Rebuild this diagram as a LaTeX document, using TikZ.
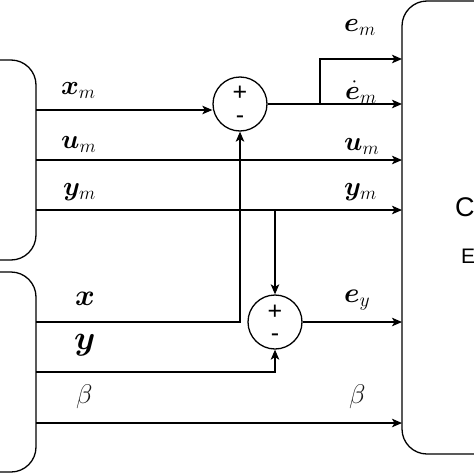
\RequirePackage{fix-cm}
\documentclass[tikz,border=0pt]{standalone}
\usepackage{bm}
\usepackage{fontspec}
\newfontfamily\arialf{Liberation Sans}
\usetikzlibrary{arrows.meta,calc}
\begin{document}
\begin{tikzpicture}[x=1pt,y=-1pt,
  wire/.style={line width=1.3pt},
  arr/.style={wire,-{Stealth[length=10pt,width=8.5pt,inset=2.5pt]}},
  blk/.style={draw,line width=1.3pt,rounded corners=25pt,rectangle},
  sum/.style={draw,circle,line width=1.3pt,minimum size=54pt,inner sep=0pt},
  lbl/.style={font=\fontsize{27}{31}\selectfont,inner sep=0pt,anchor=base west},
  sgn/.style={font=\arialf\fontsize{25}{29}\selectfont,inner sep=0pt},
  big/.style={font=\arialf\fontsize{27}{31}\selectfont,inner sep=0pt,anchor=west}]
\useasboundingbox (0,0) rectangle (474,474);
\clip (0,0) rectangle (474,474);
% blocks
\draw[blk] (-40,60) rectangle (36,260);
\node[inner sep=0pt] (box1) at (-2,160) {};
\draw[blk] (-40,272) rectangle (36,472);
\node[inner sep=0pt] (box2) at (-2,372) {};
\draw[blk] (402,1) rectangle (520,454);
\node[big] (tC) at (455,207) {C};
\node[big,font=\arialf\fontsize{21}{25}\selectfont] (tE) at (461,256) {E};
% summing junctions
\node[sum] (c1) at (240,104) {};
\node[sgn] (p1) at (240,93) {+};
\node[sgn] (m1) at (240,120) {-};
\node[sum] (c2) at (275,322) {};
\node[sgn] (p2) at (275,312) {+};
\node[sgn] (m2) at (275,338) {-};
% coordinates on block edges
\coordinate (sxm) at (36,110);
\coordinate (sum_) at (36,160);
\coordinate (sym) at (36,210);
\coordinate (sx) at (36,322);
\coordinate (sy) at (36,372);
\coordinate (sb) at (36,423);
\coordinate (em) at (402,59);
\coordinate (edm) at (402,104);
\coordinate (eum) at (402,160);
\coordinate (eym) at (402,210);
\coordinate (eey) at (402,322);
\coordinate (eb) at (402,423);
\coordinate (br) at (320,104);
\coordinate (bym) at (275,210);
% connectors
\draw[arr] (sxm) -- (sxm -| c1.west);
\draw[arr] (c1.east) -- (edm);
\draw[arr] (br) |- (em);
\draw[arr] (sum_) -- (eum);
\draw[arr] (sym) -- (eym);
\draw[arr] (bym) -- (c2.north);
\draw[arr] (sx) -| (c1.south);
\draw[arr] (sy) -| (c2.south);
\draw[arr] (c2.east) -- (eey);
\draw[arr] (sb) -- (eb);
% labels
\node[lbl] (lxm) at (61,94) {$\bm{x}_m$};
\node[lbl] (lum) at (61,148) {$\bm{u}_m$};
\node[lbl] (lym) at (63,195) {$\bm{y}_m$};
\node[lbl,font=\fontsize{30}{34}\selectfont] (lx) at (75,305) {$\bm{x}$};
\node[lbl,font=\fontsize{34}{38}\selectfont] (ly) at (74,349) {$\bm{y}$};
\node[lbl,text=black!90] (lb) at (76,403) {$\beta$};
\node[lbl] (rem) at (344,31) {$\bm{e}_m$};
\node[lbl] (redm) at (345,99) {$\dot{\bm{e}}_m$};
\node[lbl] (rum) at (344,150) {$\bm{u}_m$};
\node[lbl] (rym) at (344,195) {$\bm{y}_m$};
\node[lbl,font=\fontsize{28}{32}\selectfont] (rey) at (344,302) {$\bm{e}_y$};
\node[lbl,text=black!90] (rb) at (349,403) {$\beta$};
\end{tikzpicture}
\end{document}
